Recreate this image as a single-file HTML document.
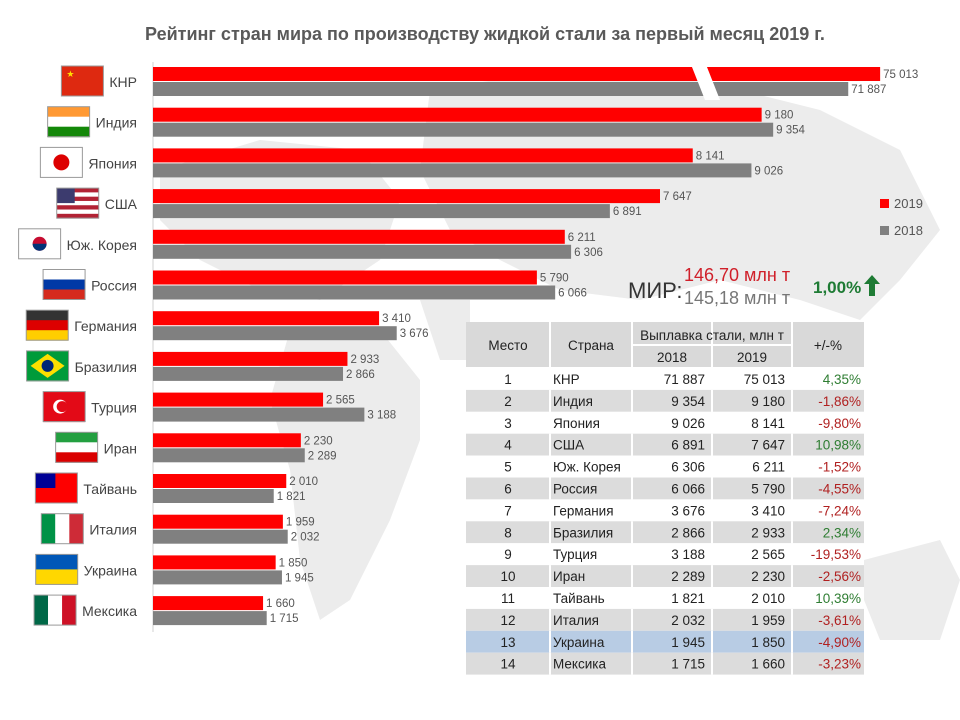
<!DOCTYPE html>
<html><head><meta charset="utf-8"><style>
body{margin:0;background:#fff;width:960px;height:720px;overflow:hidden;font-family:"Liberation Sans",sans-serif}
svg{position:absolute;left:0;top:0}
</style></head><body>
<svg id="c" width="960" height="720" viewBox="0 0 960 720">
 <g fill="#ececec">
  <path d="M430 90 L560 70 L700 80 L820 110 L900 150 L940 230 L900 280 L860 320 L800 300 L720 280 L640 300 L560 290 L500 260 L450 230 L420 170 Z"/>
  <path d="M160 170 L260 140 L360 150 L400 200 L380 260 L320 300 L260 290 L200 260 L160 220 Z"/>
  <path d="M290 330 L380 330 L420 380 L420 440 L390 520 L350 600 L320 620 L300 560 L290 470 L270 400 Z"/>
  <path d="M420 300 L470 300 L470 360 L440 360 Z"/>
  <path d="M864 560 L940 540 L960 580 L940 640 L880 640 L864 600 Z"/>
 </g>
 <text x="485" y="40" text-anchor="middle" font-size="18" font-weight="bold" fill="#595959">Рейтинг стран мира по производству жидкой стали за первый месяц 2019  г.</text>
 <line x1="153" y1="62" x2="153" y2="632" stroke="#d0d0d0"/>
 <g id="bars"></g><g id="labels"></g>
 <g font-size="13" fill="#555">
  <rect x="880" y="199" width="9" height="9" fill="#ff0000"/>
  <text x="894" y="208">2019</text>
  <rect x="880" y="226" width="9" height="9" fill="#808080"/>
  <text x="894" y="235">2018</text>
 </g>
 <g>
  <text x="628" y="298" font-size="22" fill="#333">МИР:</text>
  <text x="684" y="281" font-size="18" fill="#d0202a">146,70 млн т</text>
  <text x="684" y="304" font-size="18" fill="#777">145,18 млн т</text>
  <text x="813" y="293" font-size="17" font-weight="bold" fill="#1e7b34">1,00%</text>
  <path d="M872 275 l-8 9 h5 v12 h6 v-12 h5 Z" fill="#1e7b34"/>
 </g>
 <g id="table" font-family="'Liberation Sans',sans-serif" font-size="13.5" fill="#222"></g>
</svg>
<script>
const countries=["КНР","Индия","Япония","США","Юж. Корея","Россия","Германия","Бразилия","Турция","Иран","Тайвань","Италия","Украина","Мексика"];
const values2019=[75013,9180,8141,7647,6211,5790,3410,2933,2565,2230,2010,1959,1850,1660];
const values2018=[71887,9354,9026,6891,6306,6066,3676,2866,3188,2289,1821,2032,1945,1715];
const changes=["4,35%","-1,86%","-9,80%","10,98%","-1,52%","-4,55%","-7,24%","2,34%","-19,53%","-2,56%","10,39%","-3,61%","-4,90%","-3,23%"];
const NS="http://www.w3.org/2000/svg";
function mk(t,a,p){const e=document.createElementNS(NS,t);for(const k in a)e.setAttribute(k,a[k]);p.appendChild(e);return e;}
function fmt(v){return String(v).replace(/\B(?=(\d{3})+(?!\d))/g," ");}
const X0=153;
function xs(v){return v>20000?115+0.0102*v:X0+0.0663*v;}
function yRow(i){return 67+40.7*i;}
const bars=document.getElementById('bars'),labels=document.getElementById('labels');
const flags=[
 [["#de2910"]],[["#ff9933","#fff","#138808"]],[["#fff"],"jp"],[["#b22234","#fff","#b22234","#fff","#b22234","#fff","#b22234"],"us"],[["#fff"],"kr"],
 [["#fff","#0039a6","#d52b1e"]],[["#333","#dd0000","#ffce00"]],[["#009b3a"],"br"],[["#e30a17"]],[["#239f40","#fff","#da0000"]],
 [["#fe0000"],"tw"],[["#009246","#fff","#ce2b37"],"v"],[["#0057b7","#ffd700"]],[["#006847","#fff","#ce1126"],"v"]];
countries.forEach((c,i)=>{
 const y=yRow(i);
 const r=mk('rect',{x:X0,y:y,width:xs(values2019[i])-X0,height:14,fill:'#ff0000'},bars);
 
 
 const g=mk('rect',{x:X0,y:y+15,width:xs(values2018[i])-X0,height:14,fill:'#808080'},bars);
 
 
 const t1=mk('text',{x:xs(values2019[i])+3,y:y+11,'font-size':11.5,fill:'#555'},labels);t1.textContent=fmt(values2019[i]);
 
 
 const t2=mk('text',{x:xs(values2018[i])+3,y:y+26,'font-size':11.5,fill:'#555'},labels);t2.textContent=fmt(values2018[i]);
 
 
 const cl=mk('text',{x:137,y:y+20,'font-size':14,fill:'#444','text-anchor':'end'},labels);cl.textContent=c;
 
 
 const w=cl.getComputedTextLength();const fx=137-w-48,fy=y-1;
 const fg=mk('g',{},labels);
 
 
 const [cols,kind]=flags[i];const fw=42,fh=30;
 if(kind==='v'){cols.forEach((co,k)=>mk('rect',{x:fx+k*fw/3,y:fy,width:fw/3,height:fh,fill:co},fg));}
 else{cols.forEach((co,k)=>mk('rect',{x:fx,y:fy+k*fh/cols.length,width:fw,height:fh/cols.length+0.5,fill:co},fg));}
 if(kind==='jp')mk('circle',{cx:fx+21,cy:fy+15,r:8,fill:'#d00'},fg);
 if(kind==='kr'){mk('circle',{cx:fx+21,cy:fy+15,r:7,fill:'#c60c30'},fg);mk('path',{d:`M${fx+14} ${fy+15} a7 7 0 0 0 14 0 z`,fill:'#003478'},fg);}
 if(kind==='us')mk('rect',{x:fx,y:fy,width:18,height:15,fill:'#3c3b6e'},fg);
 if(kind==='tw')mk('rect',{x:fx,y:fy,width:20,height:15,fill:'#000095'},fg);
 if(kind==='br'){mk('path',{d:`M${fx+21} ${fy+3} L${fx+38} ${fy+15} L${fx+21} ${fy+27} L${fx+4} ${fy+15}Z`,fill:'#fedf00'},fg);mk('circle',{cx:fx+21,cy:fy+15,r:6,fill:'#002776'},fg);}
 if(i===0)mk('text',{x:fx+5,y:fy+11,'font-size':9,fill:'#ffde00'},fg).textContent='★';
 if(i===8){mk('circle',{cx:fx+17,cy:fy+15,r:7,fill:'#fff'},fg);mk('circle',{cx:fx+19,cy:fy+15,r:5.5,fill:'#e30a17'},fg);}
 mk('rect',{x:fx,y:fy,width:fw,height:fh,fill:'none',stroke:'#999','stroke-width':1},fg);
});
mk('path',{d:'M690 62 L705 62 L720 100 L705 100 Z',fill:'#fff'},bars);
const T=document.getElementById('table');
mk('rect',{x:466,y:322,width:398,height:45,fill:'#d9d9d9'},T);
[550,632,712,792].forEach(x=>mk('line',{x1:x,y1:322,x2:x,y2:367,stroke:'#fff','stroke-width':2},T));
mk('line',{x1:632,y1:345,x2:792,y2:345,stroke:'#fff','stroke-width':2},T);
function tx(x,y,s,a,f){const t=mk('text',{x:x,y:y,'text-anchor':a||'start',fill:f||'#222'},T);t.textContent=s;return t;}
tx(508,350,'Место','middle');tx(591,350,'Страна','middle');tx(712,340,'Выплавка стали, млн т','middle');
tx(672,362,'2018','middle');tx(752,362,'2019','middle');tx(828,350,'+/-%','middle');
const RH=21.9;
countries.forEach((c,i)=>{
 const y=368+i*RH;
 const bg=i===12?'#b8cce4':(i%2?'#dcdcdc':'#fff');
 const row=mk('rect',{x:466,y:y,width:398,height:RH,fill:bg},T);
 
 
 [550,632,712,792].forEach(x=>mk('line',{x1:x,y1:y,x2:x,y2:y+RH,stroke:'#fff','stroke-width':2},T));
 const by=y+16;
 tx(508,by,String(i+1),'middle');tx(553,by,c);tx(705,by,fmt(values2018[i]),'end');tx(785,by,fmt(values2019[i]),'end');
 tx(861,by,changes[i],'end',changes[i][0]==='-'?'#b02020':'#2e7d32');
});
</script>
</body></html>
